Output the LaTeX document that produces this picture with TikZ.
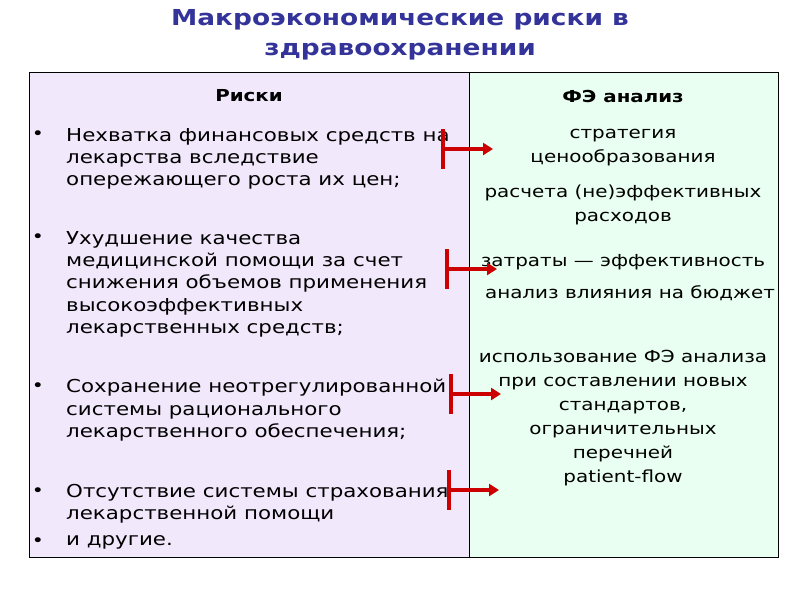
\documentclass[tikz,border=0pt]{standalone}
\usepackage{fontspec}
\setmainfont[FakeStretch=1.2]{DejaVu Sans}
\usetikzlibrary{arrows.meta}
\definecolor{tblue}{HTML}{333399}
\definecolor{lav}{HTML}{F2E8FB}
\definecolor{mint}{HTML}{E9FFF1}
\definecolor{ared}{HTML}{CC0000}
\tikzset{x=1pt,y=-1pt,
 txt/.style={font=\fontsize{17.8}{22.3}\selectfont,anchor=north west,align=left,inner sep=0},
 rtxt/.style={font=\fontsize{16.6}{24}\selectfont,align=center,inner sep=0},
 hdr/.style={font=\bfseries\fontsize{16.5}{20}\selectfont,inner sep=0},
 bul/.style={font=\fontsize{17}{22}\selectfont,inner sep=0,anchor=north},
 tbar/.style={ared,line width=3.5pt},
 tarr/.style={ared,line width=3.5pt,-{Triangle[length=10pt,width=12pt]}}}
\begin{document}
\begin{tikzpicture}
\useasboundingbox (0,0) rectangle (800,600);
\node[font=\bfseries\fontsize{22}{30}\selectfont,text=tblue,align=center] (title) at (400,35) {Макроэкономические риски в\\здравоохранении};
\draw[fill=lav] (29,72) rectangle (469,557);
\draw[fill=mint] (469,72) rectangle (778,557);
\node[hdr] (h1) at (249,96) {Риски};
\node[hdr] (h2) at (623,96) {ФЭ анализ};
\foreach \y/\n in {131/b1,234/b2,383/b3,488/b4,538/b5}{\node[bul] (\n) at (38,\y) {•};}
\node[txt] (t1) at (66,128) {Нехватка финансовых средств на\\лекарства вследствие\\опережающего роста их цен;};
\node[txt] (t2) at (66,231) {Ухудшение качества\\медицинской помощи за счет\\снижения объемов применения\\высокоэффективных\\лекарственных средств;};
\node[txt] (t3) at (66,379) {Сохранение неотрегулированной\\системы рационального\\лекарственного обеспечения;};
\node[txt] (t4) at (66,484) {Отсутствие системы страхования\\лекарственной помощи};
\node[txt] (t5) at (66,535) {и другие.};
\node[rtxt] (r1) at (623,148) {стратегия\\ценообразования};
\node[rtxt] (r2) at (623,205) {расчета (не)эффективных\\расходов};
\node[rtxt] (r3) at (623,262) {затраты — эффективность};
\node[rtxt] (r4) at (630,293) {анализ влияния на бюджет};
\node[rtxt] (r5) at (623,418) {использование ФЭ анализа\\при составлении новых\\стандартов,\\ограничительных\\перечней\\patient-flow};
\foreach \x/\y/\n in {443/149/a1,447/269/a2,451/394/a3,449/490/a4}{
 \coordinate (\n t) at (\x,\y-20); \coordinate (\n b) at (\x,\y+20);
 \coordinate (\n s) at (\x,\y); \coordinate (\n e) at (\x+50,\y);
 \draw[tbar] (\n t) -- (\n b);
 \draw[tarr] (\n s) -- (\n e);}
\end{tikzpicture}
\end{document}
